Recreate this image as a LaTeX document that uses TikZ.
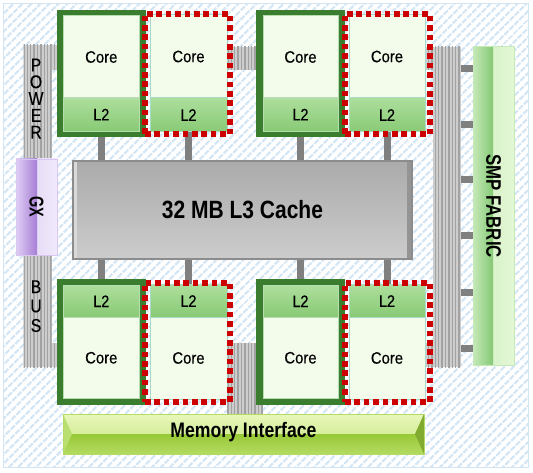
\documentclass[tikz,border=0pt]{standalone}
\usepackage{fontspec}
\setmainfont{Liberation Sans}
\newfontfamily\medfam[FakeBold=0.35]{Liberation Sans}
\usetikzlibrary{patterns.meta}
\pgfdeclarelayer{back}
\pgfdeclarelayer{bars}
\pgfsetlayers{back,bars,main}
\definecolor{gborder}{HTML}{3A7D2E}
\definecolor{corefill}{HTML}{F3FBEB}
\definecolor{coreline}{HTML}{B5DDB0}
\definecolor{redcoreline}{HTML}{A9D9C9}
\definecolor{ltop}{HTML}{ADDE9C}
\definecolor{lbot}{HTML}{88CA75}
\definecolor{redd}{HTML}{CC0000}
\definecolor{hatchc}{HTML}{D5E6F5}
\definecolor{framec}{HTML}{D3E4F2}
\definecolor{stripeL}{HTML}{CDCDCD}
\definecolor{stripeD}{HTML}{A2A2A2}
\definecolor{connc}{HTML}{808080}
\definecolor{memA}{HTML}{E8F7BA}
\definecolor{memB}{HTML}{C2E57E}
\definecolor{memC}{HTML}{97C936}
\definecolor{memD}{HTML}{B4DB62}
\definecolor{smpA}{HTML}{C6E9B8}
\definecolor{smpB}{HTML}{84C874}
\definecolor{smpC}{HTML}{CFEEC0}
\definecolor{smpD}{HTML}{E3F7D5}
\definecolor{gxA}{HTML}{E0CFF4}
\definecolor{gxB}{HTML}{A67DD5}
\definecolor{gxC}{HTML}{DCCDF2}
\definecolor{gxD}{HTML}{F1EAFB}
\newcommand{\cnd}[2][0.88]{\scalebox{#1}[1]{#2}}
\newcommand{\cfnt}{\medfam\fontsize{16.5}{16.5}\selectfont}
\begin{document}
\begin{tikzpicture}[x=1pt,y=-1pt,
  greenblk/.style={draw=gborder,line width=6.6pt,minimum width=83pt,minimum height=120.5pt,inner sep=0pt,outer sep=3.3pt},
  redblk/.style={draw=redd,line width=6pt,dash pattern=on 5.6pt off 3.8pt,minimum width=84.5pt,minimum height=120.5pt,inner sep=0pt,outer sep=3pt},
  corebox/.style={fill=corefill,draw=coreline,line width=1pt,minimum width=76pt,minimum height=82pt,inner sep=0pt,outer sep=0pt,font=\cfnt},
  ltwo/.style={top color=ltop,bottom color=lbot,draw=coreline,line width=1pt,minimum width=76pt,minimum height=33pt,inner sep=0pt,outer sep=0pt,font=\cfnt},
  stripes/.style={fill=stripeL,postaction={pattern={Lines[angle=90,distance=3.4pt,line width=1.4pt]},pattern color=stripeD}},
  conn/.style={draw=connc,line width=7pt},
  busletter/.style={inner sep=0pt,font=\medfam\fontsize{18.5}{18.5}\selectfont},
  bigtext/.style={font=\fontsize{25}{25}\selectfont\bfseries}
]
\useasboundingbox (0,0) rectangle (533,473);

% ---------- background ----------
\begin{pgfonlayer}{back}
  \fill[white] (0,0) rectangle (533,473);
  \fill[pattern={Lines[angle=45,distance=6.5pt,line width=2.5pt]},pattern color=hatchc] (3.5,3.5) rectangle (528,467.5);
  \draw[framec,line width=1pt] (3.5,3.5) rectangle (528,467.5);
\end{pgfonlayer}

% ---------- top row ----------
\node[greenblk] (g1) at (101.6,73.7) {};
\node[corebox] (c1) at (101.3,57) {\cnd[0.9]{Core}};
\node[ltwo] (l1) at (101.3,114.6) {\cnd[0.87]{L2}};

\node[corebox,draw=redcoreline,minimum width=77pt,minimum height=83pt] (c2) at (188.5,56.5) {\cnd[0.9]{Core}};
\node[ltwo,draw=redcoreline,minimum width=77pt,minimum height=34pt] (l2) at (188.5,115) {\cnd[0.87]{L2}};
\node[redblk] (r2) at (187.25,74) {};

\node[greenblk,minimum width=82pt] (g3) at (300.5,73.7) {};
\node[corebox,minimum width=75pt] (c3) at (300.5,57) {\cnd[0.9]{Core}};
\node[ltwo,minimum width=75pt] (l3b) at (300.5,114.6) {\cnd[0.87]{L2}};

\node[corebox,draw=redcoreline,minimum height=83pt] (c4) at (387,56.5) {\cnd[0.9]{Core}};
\node[ltwo,draw=redcoreline,minimum height=34pt] (l4) at (387,115) {\cnd[0.87]{L2}};
\node[redblk] (r4) at (387.25,74) {};

% ---------- bottom row ----------
\node[greenblk,minimum height=119pt] (g5) at (101.6,342.2) {};
\node[ltwo,minimum height=31.5pt] (l5) at (101.3,301.25) {\cnd[0.87]{L2}};
\node[corebox,minimum height=81.5pt] (c5) at (101.3,357.75) {\cnd[0.9]{Core}};

\node[ltwo,draw=redcoreline,minimum width=77pt,minimum height=32pt] (l6) at (188.5,301) {\cnd[0.87]{L2}};
\node[corebox,draw=redcoreline,minimum width=77pt,minimum height=82pt] (c6) at (188.5,358) {\cnd[0.9]{Core}};
\node[redblk,minimum height=119.3pt] (r6) at (187.25,342.4) {};

\node[greenblk,minimum width=82pt,minimum height=119pt] (g7) at (300.5,342.2) {};
\node[ltwo,minimum width=75pt,minimum height=31.5pt] (l7) at (300.5,301.25) {\cnd[0.87]{L2}};
\node[corebox,minimum width=75pt,minimum height=81.5pt] (c7) at (300.5,357.75) {\cnd[0.9]{Core}};

\node[ltwo,draw=redcoreline,minimum height=32pt] (l8) at (387,301) {\cnd[0.87]{L2}};
\node[corebox,draw=redcoreline,minimum height=82pt] (c8) at (387,358) {\cnd[0.9]{Core}};
\node[redblk,minimum height=119.3pt] (r8) at (387.25,342.4) {};

% ---------- L3 cache ----------
\node[draw=black!45,line width=1.5pt,minimum width=339pt,minimum height=98pt,inner sep=0pt,
  path picture={
    \shade[top color=black!33,bottom color=black!20] (path picture bounding box.south west) rectangle (path picture bounding box.north east);
    \fill[black!22] (path picture bounding box.north west) rectangle ([yshift=4pt]path picture bounding box.north east);
    \draw[white,opacity=0.85,line width=2.5pt] ([shift={(8pt,5.5pt)}]path picture bounding box.north west) -- ([shift={(-8pt,5.5pt)}]path picture bounding box.north east);
    \fill[black!15] (path picture bounding box.north west) rectangle ([xshift=4pt]path picture bounding box.south west);
    \fill[black!42] ([xshift=-5pt]path picture bounding box.north east) rectangle (path picture bounding box.south east);
    \fill[black!14] ([yshift=-5pt]path picture bounding box.south west) rectangle (path picture bounding box.south east);
  }] (l3) at (242.5,210) {};
\node[bigtext] at (l3.center) {\cnd[0.84]{32 MB L3 Cache}};

% ---------- memory interface ----------
\node[draw=memD,line width=1pt,minimum width=361pt,minimum height=40pt,inner sep=0pt,
  path picture={
    \shade[top color=memA,bottom color=memB] (path picture bounding box.north west) rectangle (path picture bounding box.east);
    \shade[top color=memC,bottom color=memD] (path picture bounding box.west) rectangle (path picture bounding box.south east);
    \fill[memB!80!memC] (path picture bounding box.north west) -- ([xshift=9pt]path picture bounding box.west) -- (path picture bounding box.south west) -- cycle;
    \fill[memC!85!black] (path picture bounding box.north east) -- ([xshift=-9pt]path picture bounding box.east) -- (path picture bounding box.south east) -- cycle;
  }] (mem) at (243.5,434) {};
\node[font=\fontsize{21}{21}\selectfont\bfseries] at ([yshift=1.5pt]mem.center) {\cnd[0.84]{Memory Interface}};

% ---------- SMP fabric ----------
\node[draw=smpA,line width=1pt,minimum width=41pt,minimum height=318pt,inner sep=0pt,
  path picture={
    \shade[left color=smpC,right color=smpD] (path picture bounding box.south west) rectangle (path picture bounding box.north east);
    \shade[left color=smpA,right color=smpB] (path picture bounding box.north west) -- ([shift={(20pt,8pt)}]path picture bounding box.north west) -- ([shift={(20pt,-8pt)}]path picture bounding box.south west) -- (path picture bounding box.south west) -- cycle;
  }] (smp) at (493.5,206) {};
\node[rotate=-90,font=\fontsize{21}{21}\selectfont\bfseries] at (smp.center) {\cnd[0.8]{SMP FABRIC}};

% ---------- GX ----------
\node[draw=gxA!90!gxB,line width=0.8pt,minimum width=41pt,minimum height=96pt,inner sep=0pt,
  path picture={
    \shade[left color=gxC,right color=gxD] (path picture bounding box.south west) rectangle (path picture bounding box.north east);
    \shade[left color=gxA,right color=gxB] (path picture bounding box.north west) rectangle ([xshift=21pt]path picture bounding box.south west);
  }] (gx) at (36.5,207) {};
\node[rotate=-90,font=\fontsize{20}{20}\selectfont\bfseries] at (gx.center) {\cnd[0.72]{GX}};

% ---------- bars and connectors (under the blocks) ----------
\begin{pgfonlayer}{bars}
  % power and bus bars
  \node[stripes,minimum width=28pt,minimum height=113pt,inner sep=0pt] (pwr) at (37.5,101.5) {};
  \fill[stripes] (pwr.north east) rectangle (g1.west |- 0,70);
  \node[stripes,minimum width=28pt,minimum height=112pt,inner sep=0pt] (bus) at (37.5,311) {};
  \fill[stripes] (bus.south east) rectangle (g5.west |- 0,343);
  % links between the core pairs
  \fill[stripes] (c2.east |- 0,47) rectangle (c3.west |- 0,70);
  \fill[stripes] (c6.east |- 0,343) rectangle (c7.west |- mem.north);
  % fabric bus
  \node[stripes,minimum width=28pt,minimum height=320pt,inner sep=0pt] (fab) at (447,207) {};
  \fill[stripes] (c4.east |- 0,47) rectangle (fab.west |- 0,70);
  \fill[stripes] (c8.east |- 0,343) rectangle (fab.west |- 0,367);
  % L2 to L3 links
  \foreach \n in {l1,l2,l3b,l4}{
    \draw[conn] (\n.south) -- (\n.south |- l3.north);
  }
  \foreach \n in {l5,l6,l7,l8}{
    \draw[conn] (\n.north) -- (\n.north |- l3.south);
  }
  % fabric bus to SMP fabric
  \foreach \y in {68.5,124.5,180,236,292,348}{
    \draw[conn] (fab.east |- 0,\y) -- (smp.west |- 0,\y);
  }
\end{pgfonlayer}

% letters of the POWER and BUS labels
\foreach \ch/\y [count=\i] in {P/65,O/81.8,W/98.6,E/115.4,R/132.2}{
  \node[busletter] (pw\i) at (36,\y) {\cnd[0.85]{\ch}};
}
\foreach \ch/\y [count=\i] in {B/286.7,U/306,S/325.5}{
  \node[busletter] (bu\i) at (36,\y) {\cnd[0.85]{\ch}};
}
\end{tikzpicture}
\end{document}
